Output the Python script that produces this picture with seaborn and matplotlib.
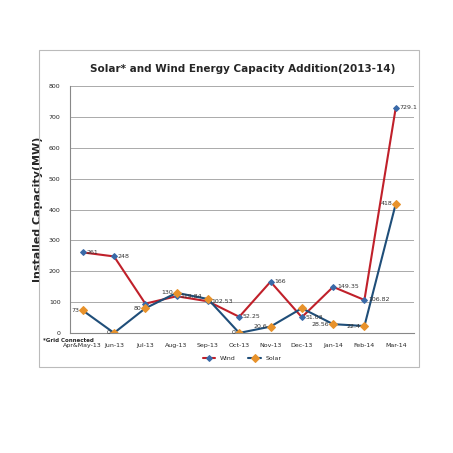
import matplotlib.pyplot as plt
import seaborn as sns
import pandas as pd

months = ["Apr&May-13", "Jun-13", "Jul-13", "Aug-13", "Sep-13", "Oct-13",
          "Nov-13", "Dec-13", "Jan-14", "Feb-14", "Mar-14"]
wind = [261, 248, 95, 119, 102.53, 52.25, 166, 51.03, 149.35, 106.82, 729.1]
solar = [73, 0, 80, 130, 110, 0, 20.6, 80, 28.56, 22.4, 418]
wind_lbl = ["261", "248", "", "119.84", "102.53", "52.25", "166", "51.03", "149.35", "106.82", "729.1"]
solar_lbl = ["73", "0", "80", "130", "", "0", "20.6", "", "28.56", "22.4", "418"]

df = pd.DataFrame({"month": months, "Wind": wind, "Solar": solar})
df["x"] = range(len(months))

sns.set_style("white")
fig = plt.figure(figsize=(4.53, 4.53), dpi=100)
fig.patches.append(plt.Rectangle((0.085, 0.19), 0.84, 0.70, transform=fig.transFigure,
                                 fill=False, edgecolor="#bbbbbb", lw=0.8))
ax = fig.add_axes([0.155, 0.265, 0.76, 0.545])

sns.lineplot(data=df, x="x", y="Wind", ax=ax, color="#c0202a", lw=1.5,
             marker="D", markersize=3, markerfacecolor="#3a6aa8", markeredgecolor="#3a6aa8", label="Wind")
sns.lineplot(data=df, x="x", y="Solar", ax=ax, color="#1f4e79", lw=1.5,
             marker="D", markersize=4, markerfacecolor="#e8922b", markeredgecolor="#e8922b", label="Solar")

for i in range(len(months)):
    if wind_lbl[i]:
        ax.text(i + 0.12, wind[i], wind_lbl[i], fontsize=4.5, va="center", color="#333333")
    if solar_lbl[i]:
        ax.text(i - 0.12, solar[i], solar_lbl[i], fontsize=4.5, va="center", ha="right", color="#333333")

ax.set_xlim(-0.4, len(months) - 0.4)
ax.set_ylim(0, 800)
ax.set_yticks(range(0, 801, 100))
ax.set_xticks(df["x"])
ax.set_xticklabels(months, fontsize=4.5)
ax.tick_params(axis="y", labelsize=4.5)
ax.grid(axis="y", color="#aaaaaa", lw=0.7)
for s in ["top", "right"]:
    ax.spines[s].set_visible(False)
ax.spines["left"].set_color("#888888")
ax.spines["bottom"].set_color("#888888")
ax.set_xlabel("")
ax.set_ylabel("Installed Capacity(MW)", fontsize=8, fontweight="bold")
ax.set_title("Solar* and Wind Energy Capacity Addition(2013-14)", fontsize=7.5, fontweight="bold", pad=10)
ax.legend(loc="upper center", bbox_to_anchor=(0.5, -0.07), ncol=2, fontsize=4.5, frameon=False)
fig.text(0.095, 0.245, "*Grid Connected", fontsize=4, fontweight="bold")

fig.savefig("out.png", dpi=100)
